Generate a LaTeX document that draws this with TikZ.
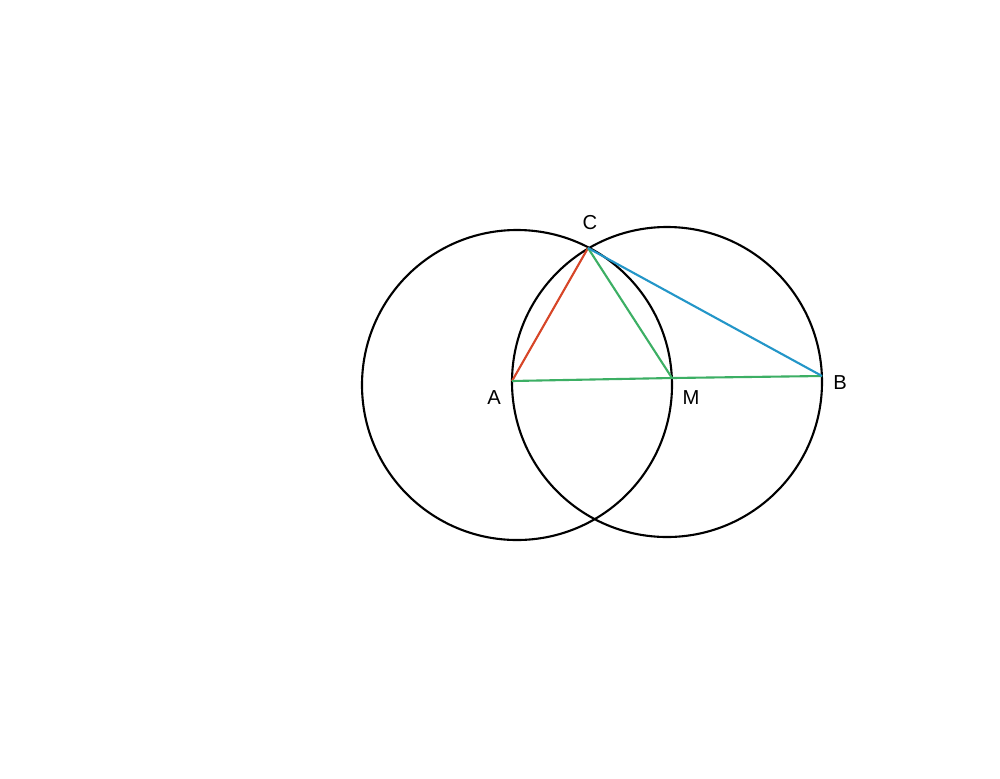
\documentclass[tikz,border=0pt]{standalone}
\usepackage{fontspec}
\setmainfont{Liberation Sans}
\begin{document}
\begin{tikzpicture}[x=0.02cm,y=-0.02cm,
  circ/.style={draw=black,line width=1.2pt},
  seg/.style={line width=1.2pt},
  lbl/.style={font=\fontsize{11.5}{13}\selectfont,inner sep=0pt}]
\useasboundingbox[fill=white] (0,0) rectangle (1000,778);
\coordinate (O1) at (517,385);
\coordinate (O2) at (667,382);
\coordinate (A) at (512,381);
\coordinate (M) at (672,378);
\coordinate (B) at (822,376);
\coordinate (C) at (588,248);
\draw[circ] (O1) circle[radius=155];
\draw[circ] (O2) circle[radius=155];
\definecolor{redor}{RGB}{215,70,40}
\definecolor{grn}{RGB}{60,175,100}
\definecolor{blu}{RGB}{35,150,200}
\draw[seg,draw=redor] (A) -- (C);
\draw[seg,draw=grn] (A) -- (M) -- (B);
\draw[seg,draw=grn] (C) -- (M);
\draw[seg,draw=blu] (C) -- (B);
\node[lbl] (lC) at (590,223) {C};
\node[lbl] (lA) at (494,398) {A};
\node[lbl] (lM) at (691,398) {M};
\node[lbl] (lB) at (840,383) {B};
\end{tikzpicture}
\end{document}
